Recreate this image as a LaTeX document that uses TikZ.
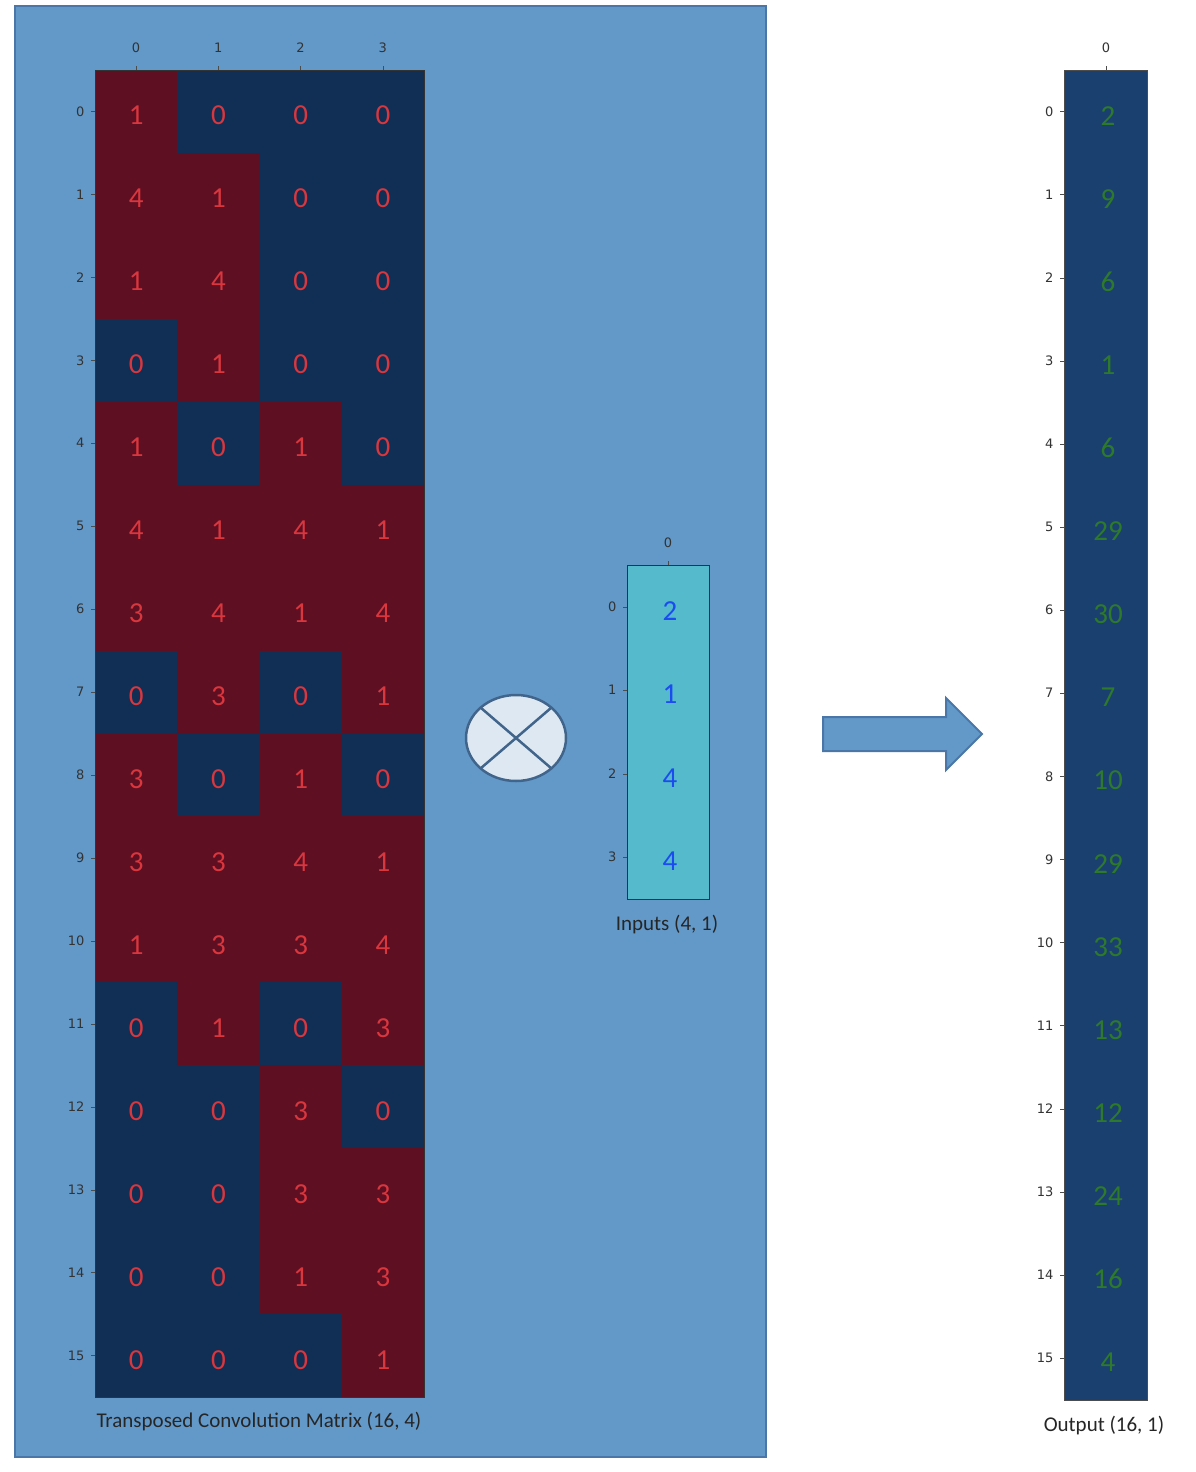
\documentclass[tikz,border=0pt]{standalone}
\usepackage{fontspec}
\setmainfont{Carlito}
\newfontfamily\tickfont{DejaVu Sans}
\definecolor{panel}{HTML}{6399C9}
\definecolor{panelb}{HTML}{4A77A8}
\definecolor{dred}{HTML}{5E0F22}
\definecolor{navy}{HTML}{112F55}
\definecolor{rtext}{HTML}{D9363E}
\definecolor{cyanin}{HTML}{55BACB}
\definecolor{btext}{HTML}{1A4CF0}
\definecolor{outfill}{HTML}{1A4070}
\definecolor{gtext}{HTML}{2E7A2A}
\definecolor{circfill}{HTML}{DDE8F3}
\definecolor{circline}{HTML}{41648A}
\begin{document}
\begin{tikzpicture}[x=1pt,y=-1pt,
  tick/.style={font=\tickfont\fontsize{13}{13}\selectfont,text=black!80},
  cellnum/.style={font=\fontsize{29}{29}\selectfont},
  lbl/.style={font=\fontsize{21}{21}\selectfont,text=black!85}]
\useasboundingbox (0,0) rectangle (1196,1472);
\fill[white] (0,0) rectangle (1196,1472);
\draw[fill=panel,draw=panelb,line width=2pt] (15,6) rectangle (766,1457);
% matrix
\def\cw{82.25}\def\ch{82.94}
\foreach \r/\vals in {0/{1,0,0,0},1/{4,1,0,0},2/{1,4,0,0},3/{0,1,0,0},4/{1,0,1,0},5/{4,1,4,1},6/{3,4,1,4},7/{0,3,0,1},8/{3,0,1,0},9/{3,3,4,1},10/{1,3,3,4},11/{0,1,0,3},12/{0,0,3,0},13/{0,0,3,3},14/{0,0,1,3},15/{0,0,0,1}}{
  \foreach \v [count=\c from 0] in \vals {
    \ifnum\v=0 \def\cc{navy}\else\def\cc{dred}\fi
    \fill[\cc] ({95+\c*\cw},{70+\r*\ch}) rectangle ({95+(\c+1)*\cw},{70+(\r+1)*\ch});
    \node[cellnum,text=rtext] (m\r-\c) at ({95+(\c+0.5)*\cw},{70+(\r+0.55)*\ch}) {\v};
  }
  \draw[black!70] (95,{70+(\r+0.5)*\ch}) -- (91,{70+(\r+0.5)*\ch});
  \node[tick,anchor=east] (mr\r) at (88,{70+(\r+0.5)*\ch}) {\r};
}
\foreach \c in {0,...,3}{
  \draw[black!70] ({95+(\c+0.5)*\cw},70) -- ({95+(\c+0.5)*\cw},66);
  \node[tick,anchor=south] (mc\c) at ({95+(\c+0.5)*\cw},56) {\c};
}
\draw[black!80] (95,70) rectangle (424,1397);
\node[lbl] (mlab) at (259,1421) {Transposed Convolution Matrix (16, 4)};
% circle
\draw[fill=circfill,draw=circline,line width=2.5pt] (516,738) ellipse [x radius=50,y radius=43];
\draw[circline,line width=2.5pt] ({516-35.4},{738-30.4}) -- ({516+35.4},{738+30.4});
\draw[circline,line width=2.5pt] ({516-35.4},{738+30.4}) -- ({516+35.4},{738-30.4});
% inputs
\fill[cyanin] (627,565) rectangle (709,899);
\draw[black!80] (627,565) rectangle (709,899);
\foreach \v [count=\i from 0] in {2,1,4,4}{
  \node[cellnum,text=btext] (in\i) at (670,{565+(\i+0.55)*83.5}) {\v};
  \draw[black!70] (627,{565+(\i+0.5)*83.5}) -- (623,{565+(\i+0.5)*83.5});
  \node[tick,anchor=east] (inr\i) at (620,{565+(\i+0.5)*83.5}) {\i};
}
\draw[black!70] (668,565) -- (668,561);
\node[tick,anchor=south] (inc) at (668,551) {0};
\node[lbl] (inlab) at (667,925) {Inputs (4, 1)};
% arrow
\draw[fill=panel,draw=panelb,line width=2pt,line join=miter]
  (823,717) -- (946,717) -- (946,698) -- (982,734) -- (946,770) -- (946,751) -- (823,751) -- cycle;
% output
\fill[outfill] (1064,70) rectangle (1147,1400);
\draw[black!70] (1064,70) rectangle (1147,1400);
\foreach \v [count=\i from 0] in {2,9,6,1,6,29,30,7,10,29,33,13,12,24,16,4}{
  \node[cellnum,text=gtext] (o\i) at (1108,{70+(\i+0.55)*83.1}) {\v};
  \draw[black!70] (1064,{70+(\i+0.5)*83.1}) -- (1060,{70+(\i+0.5)*83.1});
  \node[tick,anchor=east] (or\i) at (1057,{70+(\i+0.5)*83.1}) {\i};
}
\draw[black!70] (1106,70) -- (1106,66);
\node[tick,anchor=south] (oc) at (1106,56) {0};
\node[lbl] (olab) at (1104,1425) {Output (16, 1)};
\end{tikzpicture}
\end{document}
